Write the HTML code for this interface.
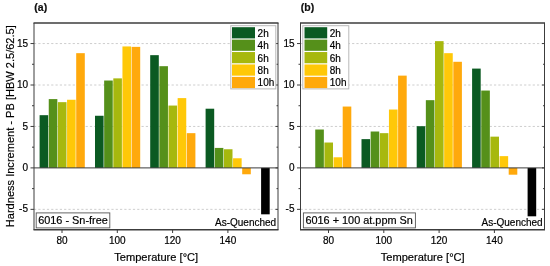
<!DOCTYPE html>
<html><head><meta charset="utf-8"><title>Hardness increment</title>
<style>
html,body{margin:0;padding:0;background:#fff;}
svg{display:block;font-family:"Liberation Sans",sans-serif;fill:#000;}
text{stroke:#000;stroke-width:0.18px;}
</style></head><body>
<svg width="550" height="266" viewBox="0 0 550 266">
<rect x="0" y="0" width="550" height="266" fill="#fff"/>
<text transform="translate(13.8,126.2) rotate(-90)" font-size="11.05" text-anchor="middle">Hardness Increment - PB [HBW 2.5/62.5]</text>
<rect x="34.0" y="23.0" width="244.0" height="206.8" fill="#fff" stroke="none"/>
<line x1="34.0" x2="278.0" y1="209.35" y2="209.35" stroke="#c2c2c2" stroke-width="0.8" stroke-dasharray="2.2 2.1"/>
<line x1="34.0" x2="278.0" y1="126.45" y2="126.45" stroke="#c2c2c2" stroke-width="0.8" stroke-dasharray="2.2 2.1"/>
<line x1="34.0" x2="278.0" y1="85.00" y2="85.00" stroke="#c2c2c2" stroke-width="0.8" stroke-dasharray="2.2 2.1"/>
<line x1="34.0" x2="278.0" y1="43.55" y2="43.55" stroke="#c2c2c2" stroke-width="0.8" stroke-dasharray="2.2 2.1"/>
<rect x="39.60" y="115.18" width="8.6" height="52.72" fill="#0b5a22"/>
<rect x="48.75" y="99.09" width="8.6" height="68.81" fill="#55901a"/>
<rect x="57.90" y="102.16" width="8.6" height="65.74" fill="#a7b80e"/>
<rect x="67.05" y="99.76" width="8.6" height="68.14" fill="#ffc808"/>
<rect x="76.20" y="53.17" width="8.6" height="114.73" fill="#ffa90c"/>
<rect x="95.00" y="115.76" width="8.6" height="52.14" fill="#0b5a22"/>
<rect x="104.15" y="80.52" width="8.6" height="87.38" fill="#55901a"/>
<rect x="113.30" y="78.37" width="8.6" height="89.53" fill="#a7b80e"/>
<rect x="122.45" y="46.45" width="8.6" height="121.45" fill="#ffc808"/>
<rect x="131.60" y="46.87" width="8.6" height="121.03" fill="#ffa90c"/>
<rect x="150.20" y="55.16" width="8.6" height="112.74" fill="#0b5a22"/>
<rect x="159.35" y="66.18" width="8.6" height="101.72" fill="#55901a"/>
<rect x="168.50" y="105.56" width="8.6" height="62.34" fill="#a7b80e"/>
<rect x="177.65" y="98.10" width="8.6" height="69.80" fill="#ffc808"/>
<rect x="186.80" y="133.16" width="8.6" height="34.74" fill="#ffa90c"/>
<rect x="205.60" y="108.71" width="8.6" height="59.19" fill="#0b5a22"/>
<rect x="214.75" y="147.92" width="8.6" height="19.98" fill="#55901a"/>
<rect x="223.90" y="149.25" width="8.6" height="18.65" fill="#a7b80e"/>
<rect x="233.05" y="158.28" width="8.6" height="9.62" fill="#ffc808"/>
<rect x="242.20" y="167.90" width="8.6" height="6.38" fill="#ffa90c"/>
<rect x="261.10" y="167.9" width="8.6" height="46.42" fill="#000"/>
<line x1="34.0" x2="278.0" y1="167.9" y2="167.9" stroke="#3c3c3c" stroke-width="1"/>
<line x1="33.5" x2="278.5" y1="23.0" y2="23.0" stroke="#3c3c3c" stroke-width="1.4"/>
<line x1="33.5" x2="278.5" y1="229.8" y2="229.8" stroke="#3c3c3c" stroke-width="1.4"/>
<line x1="34.0" x2="34.0" y1="23.0" y2="229.8" stroke="#3c3c3c" stroke-width="1.0"/>
<line x1="278.0" x2="278.0" y1="23.0" y2="229.8" stroke="#3c3c3c" stroke-width="1.0"/>
<line x1="30.5" x2="34.0" y1="209.35" y2="209.35" stroke="#3c3c3c" stroke-width="1"/>
<line x1="275.5" x2="278.0" y1="209.35" y2="209.35" stroke="#3c3c3c" stroke-width="1"/>
<text x="28.0" y="212.45" font-size="10" text-anchor="end">-5</text>
<line x1="30.5" x2="34.0" y1="167.90" y2="167.90" stroke="#3c3c3c" stroke-width="1"/>
<line x1="275.5" x2="278.0" y1="167.90" y2="167.90" stroke="#3c3c3c" stroke-width="1"/>
<text x="28.0" y="171.00" font-size="10" text-anchor="end">0</text>
<line x1="30.5" x2="34.0" y1="126.45" y2="126.45" stroke="#3c3c3c" stroke-width="1"/>
<line x1="275.5" x2="278.0" y1="126.45" y2="126.45" stroke="#3c3c3c" stroke-width="1"/>
<text x="28.0" y="129.55" font-size="10" text-anchor="end">5</text>
<line x1="30.5" x2="34.0" y1="85.00" y2="85.00" stroke="#3c3c3c" stroke-width="1"/>
<line x1="275.5" x2="278.0" y1="85.00" y2="85.00" stroke="#3c3c3c" stroke-width="1"/>
<text x="28.0" y="88.10" font-size="10" text-anchor="end">10</text>
<line x1="30.5" x2="34.0" y1="43.55" y2="43.55" stroke="#3c3c3c" stroke-width="1"/>
<line x1="275.5" x2="278.0" y1="43.55" y2="43.55" stroke="#3c3c3c" stroke-width="1"/>
<text x="28.0" y="46.65" font-size="10" text-anchor="end">15</text>
<line x1="32.0" x2="34.0" y1="188.62" y2="188.62" stroke="#3c3c3c" stroke-width="1"/>
<line x1="276.5" x2="278.0" y1="188.62" y2="188.62" stroke="#3c3c3c" stroke-width="1"/>
<line x1="32.0" x2="34.0" y1="147.18" y2="147.18" stroke="#3c3c3c" stroke-width="1"/>
<line x1="276.5" x2="278.0" y1="147.18" y2="147.18" stroke="#3c3c3c" stroke-width="1"/>
<line x1="32.0" x2="34.0" y1="105.73" y2="105.73" stroke="#3c3c3c" stroke-width="1"/>
<line x1="276.5" x2="278.0" y1="105.73" y2="105.73" stroke="#3c3c3c" stroke-width="1"/>
<line x1="32.0" x2="34.0" y1="64.28" y2="64.28" stroke="#3c3c3c" stroke-width="1"/>
<line x1="276.5" x2="278.0" y1="64.28" y2="64.28" stroke="#3c3c3c" stroke-width="1"/>
<line x1="62.00" x2="62.00" y1="229.8" y2="233.0" stroke="#3c3c3c" stroke-width="1"/>
<text x="62.00" y="243.6" font-size="10" text-anchor="middle">80</text>
<line x1="117.30" x2="117.30" y1="229.8" y2="233.0" stroke="#3c3c3c" stroke-width="1"/>
<text x="117.30" y="243.6" font-size="10" text-anchor="middle">100</text>
<line x1="172.60" x2="172.60" y1="229.8" y2="233.0" stroke="#3c3c3c" stroke-width="1"/>
<text x="172.60" y="243.6" font-size="10" text-anchor="middle">120</text>
<line x1="227.90" x2="227.90" y1="229.8" y2="233.0" stroke="#3c3c3c" stroke-width="1"/>
<text x="227.90" y="243.6" font-size="10" text-anchor="middle">140</text>
<text x="156.2" y="261" font-size="11.1" text-anchor="middle">Temperature [°C]</text>
<text x="34.3" y="10.6" font-size="10.5" font-weight="bold" fill="#111">(a)</text>
<rect x="36.2" y="212.9" width="73.6" height="15.0" fill="#fff" stroke="#555" stroke-width="0.9"/>
<text x="38.2" y="224.0" font-size="10.9">6016 - Sn-free</text>
<text x="276.2" y="226.2" font-size="10" text-anchor="end">As-Quenched</text>
<rect x="230.8" y="25.7" width="45" height="63.2" fill="#fff" stroke="#b8b8b8" stroke-width="1"/>
<rect x="232.0" y="27.20" width="23" height="11.2" fill="#0b5a22"/>
<text x="257.6" y="36.80" font-size="10">2h</text>
<rect x="232.0" y="39.62" width="23" height="11.2" fill="#55901a"/>
<text x="257.6" y="49.22" font-size="10">4h</text>
<rect x="232.0" y="52.04" width="23" height="11.2" fill="#a7b80e"/>
<text x="257.6" y="61.64" font-size="10">6h</text>
<rect x="232.0" y="64.46" width="23" height="11.2" fill="#ffc808"/>
<text x="257.6" y="74.06" font-size="10">8h</text>
<rect x="232.0" y="76.88" width="23" height="11.2" fill="#ffa90c"/>
<text x="257.6" y="86.48" font-size="10">10h</text>
<rect x="300.5" y="23.0" width="244.0" height="206.8" fill="#fff" stroke="none"/>
<line x1="300.5" x2="544.5" y1="209.35" y2="209.35" stroke="#c2c2c2" stroke-width="0.8" stroke-dasharray="2.2 2.1"/>
<line x1="300.5" x2="544.5" y1="126.45" y2="126.45" stroke="#c2c2c2" stroke-width="0.8" stroke-dasharray="2.2 2.1"/>
<line x1="300.5" x2="544.5" y1="85.00" y2="85.00" stroke="#c2c2c2" stroke-width="0.8" stroke-dasharray="2.2 2.1"/>
<line x1="300.5" x2="544.5" y1="43.55" y2="43.55" stroke="#c2c2c2" stroke-width="0.8" stroke-dasharray="2.2 2.1"/>
<rect x="315.25" y="129.52" width="8.6" height="38.38" fill="#55901a"/>
<rect x="324.40" y="142.53" width="8.6" height="25.37" fill="#a7b80e"/>
<rect x="333.55" y="157.29" width="8.6" height="10.61" fill="#ffc808"/>
<rect x="342.70" y="106.55" width="8.6" height="61.35" fill="#ffa90c"/>
<rect x="361.50" y="139.13" width="8.6" height="28.77" fill="#0b5a22"/>
<rect x="370.65" y="131.51" width="8.6" height="36.39" fill="#55901a"/>
<rect x="379.80" y="133.16" width="8.6" height="34.74" fill="#a7b80e"/>
<rect x="388.95" y="109.54" width="8.6" height="58.36" fill="#ffc808"/>
<rect x="398.10" y="75.63" width="8.6" height="92.27" fill="#ffa90c"/>
<rect x="416.70" y="126.20" width="8.6" height="41.70" fill="#0b5a22"/>
<rect x="425.85" y="100.17" width="8.6" height="67.73" fill="#55901a"/>
<rect x="435.00" y="41.15" width="8.6" height="126.75" fill="#a7b80e"/>
<rect x="444.15" y="53.17" width="8.6" height="114.73" fill="#ffc808"/>
<rect x="453.30" y="61.79" width="8.6" height="106.11" fill="#ffa90c"/>
<rect x="472.10" y="68.59" width="8.6" height="99.31" fill="#0b5a22"/>
<rect x="481.25" y="90.55" width="8.6" height="77.35" fill="#55901a"/>
<rect x="490.40" y="136.65" width="8.6" height="31.25" fill="#a7b80e"/>
<rect x="499.55" y="156.13" width="8.6" height="11.77" fill="#ffc808"/>
<rect x="508.70" y="167.90" width="8.6" height="6.80" fill="#ffa90c"/>
<rect x="527.60" y="167.9" width="8.6" height="48.41" fill="#000"/>
<line x1="300.5" x2="544.5" y1="167.9" y2="167.9" stroke="#3c3c3c" stroke-width="1"/>
<line x1="300.0" x2="545.0" y1="23.0" y2="23.0" stroke="#3c3c3c" stroke-width="1.4"/>
<line x1="300.0" x2="545.0" y1="229.8" y2="229.8" stroke="#3c3c3c" stroke-width="1.4"/>
<line x1="300.5" x2="300.5" y1="23.0" y2="229.8" stroke="#3c3c3c" stroke-width="1.0"/>
<line x1="544.5" x2="544.5" y1="23.0" y2="229.8" stroke="#3c3c3c" stroke-width="1.0"/>
<line x1="297.0" x2="300.5" y1="209.35" y2="209.35" stroke="#3c3c3c" stroke-width="1"/>
<line x1="542.0" x2="544.5" y1="209.35" y2="209.35" stroke="#3c3c3c" stroke-width="1"/>
<text x="294.5" y="212.45" font-size="10" text-anchor="end">-5</text>
<line x1="297.0" x2="300.5" y1="167.90" y2="167.90" stroke="#3c3c3c" stroke-width="1"/>
<line x1="542.0" x2="544.5" y1="167.90" y2="167.90" stroke="#3c3c3c" stroke-width="1"/>
<text x="294.5" y="171.00" font-size="10" text-anchor="end">0</text>
<line x1="297.0" x2="300.5" y1="126.45" y2="126.45" stroke="#3c3c3c" stroke-width="1"/>
<line x1="542.0" x2="544.5" y1="126.45" y2="126.45" stroke="#3c3c3c" stroke-width="1"/>
<text x="294.5" y="129.55" font-size="10" text-anchor="end">5</text>
<line x1="297.0" x2="300.5" y1="85.00" y2="85.00" stroke="#3c3c3c" stroke-width="1"/>
<line x1="542.0" x2="544.5" y1="85.00" y2="85.00" stroke="#3c3c3c" stroke-width="1"/>
<text x="294.5" y="88.10" font-size="10" text-anchor="end">10</text>
<line x1="297.0" x2="300.5" y1="43.55" y2="43.55" stroke="#3c3c3c" stroke-width="1"/>
<line x1="542.0" x2="544.5" y1="43.55" y2="43.55" stroke="#3c3c3c" stroke-width="1"/>
<text x="294.5" y="46.65" font-size="10" text-anchor="end">15</text>
<line x1="298.5" x2="300.5" y1="188.62" y2="188.62" stroke="#3c3c3c" stroke-width="1"/>
<line x1="543.0" x2="544.5" y1="188.62" y2="188.62" stroke="#3c3c3c" stroke-width="1"/>
<line x1="298.5" x2="300.5" y1="147.18" y2="147.18" stroke="#3c3c3c" stroke-width="1"/>
<line x1="543.0" x2="544.5" y1="147.18" y2="147.18" stroke="#3c3c3c" stroke-width="1"/>
<line x1="298.5" x2="300.5" y1="105.73" y2="105.73" stroke="#3c3c3c" stroke-width="1"/>
<line x1="543.0" x2="544.5" y1="105.73" y2="105.73" stroke="#3c3c3c" stroke-width="1"/>
<line x1="298.5" x2="300.5" y1="64.28" y2="64.28" stroke="#3c3c3c" stroke-width="1"/>
<line x1="543.0" x2="544.5" y1="64.28" y2="64.28" stroke="#3c3c3c" stroke-width="1"/>
<line x1="328.50" x2="328.50" y1="229.8" y2="233.0" stroke="#3c3c3c" stroke-width="1"/>
<text x="328.50" y="243.6" font-size="10" text-anchor="middle">80</text>
<line x1="383.80" x2="383.80" y1="229.8" y2="233.0" stroke="#3c3c3c" stroke-width="1"/>
<text x="383.80" y="243.6" font-size="10" text-anchor="middle">100</text>
<line x1="439.10" x2="439.10" y1="229.8" y2="233.0" stroke="#3c3c3c" stroke-width="1"/>
<text x="439.10" y="243.6" font-size="10" text-anchor="middle">120</text>
<line x1="494.40" x2="494.40" y1="229.8" y2="233.0" stroke="#3c3c3c" stroke-width="1"/>
<text x="494.40" y="243.6" font-size="10" text-anchor="middle">140</text>
<text x="422.7" y="261" font-size="11.1" text-anchor="middle">Temperature [°C]</text>
<text x="300.8" y="10.6" font-size="10.5" font-weight="bold" fill="#111">(b)</text>
<rect x="303.4" y="212.9" width="112" height="15.0" fill="#fff" stroke="#555" stroke-width="0.9"/>
<text x="305.4" y="224.0" font-size="10.9">6016 + 100 at.ppm Sn</text>
<text x="542.7" y="226.2" font-size="10" text-anchor="end">As-Quenched</text>
<rect x="302.8" y="25.7" width="46" height="63.2" fill="#fff" stroke="#b8b8b8" stroke-width="1"/>
<rect x="304.5" y="27.20" width="22.7" height="11.2" fill="#0b5a22"/>
<text x="329.8" y="36.80" font-size="10">2h</text>
<rect x="304.5" y="39.62" width="22.7" height="11.2" fill="#55901a"/>
<text x="329.8" y="49.22" font-size="10">4h</text>
<rect x="304.5" y="52.04" width="22.7" height="11.2" fill="#a7b80e"/>
<text x="329.8" y="61.64" font-size="10">6h</text>
<rect x="304.5" y="64.46" width="22.7" height="11.2" fill="#ffc808"/>
<text x="329.8" y="74.06" font-size="10">8h</text>
<rect x="304.5" y="76.88" width="22.7" height="11.2" fill="#ffa90c"/>
<text x="329.8" y="86.48" font-size="10">10h</text>
</svg>
</body></html>
